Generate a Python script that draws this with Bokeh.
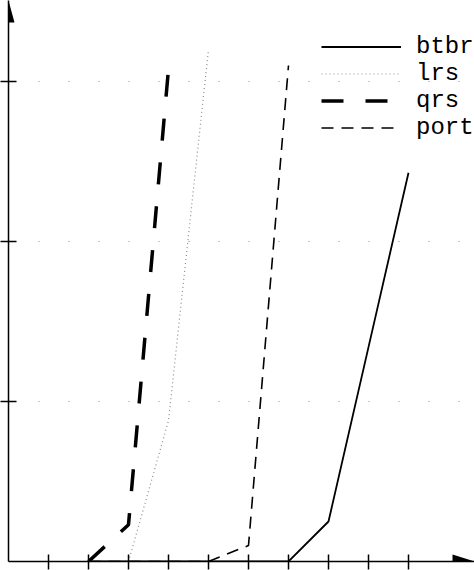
from bokeh.plotting import figure
from bokeh.models import FixedTicker, Legend, LegendItem, PolyAnnotation
from bokeh.embed import file_html
from bokeh.resources import INLINE

# values (no labels on the axes)
steps = [2, 3, 4, 5, 6, 7, 8, 9, 10]
btbr = [0, 0, 0, 0, 0, 0, 0.25, 1.34, 2.43]
lrs = [0, 0, 0.88, 3.2]
qrs = [0, 0.23, 3.08]
port = [0, 0, 0, 0, 0.1, 3.1]

x_ticks = [1, 2, 3, 4, 5, 6, 7, 8, 9, 10]
y_ticks = [1, 2, 3]

W, H = 474, 570
x_max, y_max = 11.65, 3.50625
px_x = (W - 8) / x_max
px_y = (H - 9) / y_max

p = figure(width=W, height=H, x_range=(0, x_max), y_range=(0, y_max),
           output_backend="svg", toolbar_location=None,
           min_border_left=8, min_border_bottom=9, min_border_top=0, min_border_right=0,
           outline_line_color=None)

for ax, ticks in ((p.xaxis, x_ticks), (p.yaxis, y_ticks)):
    ax.ticker = FixedTicker(ticks=ticks)
    ax.major_label_overrides = {t: "" for t in ticks}
    ax.major_label_text_font_size = "0px"
    ax.major_label_standoff = 0
    ax.minor_tick_line_color = None
    ax.axis_line_width = 1.5
    ax.major_tick_line_width = 1.5
    ax.axis_line_color = "black"
    ax.major_tick_line_color = "black"
p.xaxis.major_tick_in = 7
p.xaxis.major_tick_out = 8
p.yaxis.major_tick_in = 8
p.yaxis.major_tick_out = 8

p.xgrid.visible = False
p.ygrid.grid_line_color = "#8a8a8a"
p.ygrid.grid_line_dash = "1 29"
p.ygrid.grid_line_width = 1

# arrow heads at the ends of the axes
p.add_layout(PolyAnnotation(xs=[x_max - 22 / px_x, x_max - 22 / px_x, x_max],
                            ys=[-7 / px_y, 7 / px_y, 0],
                            fill_color="black", fill_alpha=1, line_color=None))
p.add_layout(PolyAnnotation(xs=[-6 / px_x, 6 / px_x, 0],
                            ys=[y_max - 22 / px_y, y_max - 22 / px_y, y_max],
                            fill_color="black", fill_alpha=1, line_color=None))

r1 = p.line(steps[:len(btbr)], btbr, line_color="black", line_width=1.8)
r2 = p.line(steps[:len(lrs)], lrs, line_color="#8c8c8c", line_width=1.2, line_dash="1 3")
r3 = p.line(steps[:len(qrs)], qrs, line_color="black", line_width=3.5, line_dash="22 22")
r4 = p.line(steps[:len(port)], port, line_color="black", line_width=1.6, line_dash="12 8")

legend = Legend(items=[LegendItem(label="btbr", renderers=[r1]),
                       LegendItem(label="lrs", renderers=[r2]),
                       LegendItem(label="qrs", renderers=[r3]),
                       LegendItem(label="port", renderers=[r4])],
                location=(313, 420), padding=0, margin=0, spacing=0,
                glyph_width=80, glyph_height=27, label_height=27, label_standoff=15,
                label_text_font="Liberation Mono", label_text_font_size="24px",
                label_text_color="black",
                border_line_color=None, background_fill_alpha=0)
p.add_layout(legend)

open("out.html", "w").write(file_html(p, INLINE))
